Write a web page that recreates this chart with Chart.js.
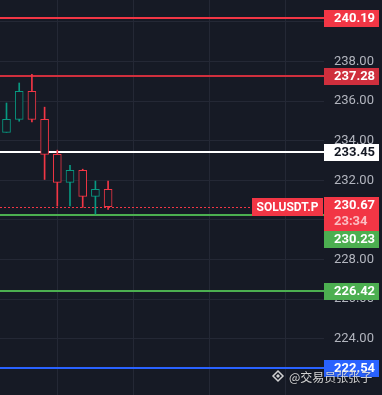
<!DOCTYPE html>
<html>
<head>
<meta charset="utf-8">
<script src="https://cdn.jsdelivr.net/npm/chart.js@4.4.0/dist/chart.umd.min.js"></script>
<style>
  html, body { margin: 0; padding: 0; background: #161a25; overflow: hidden; }
</style>
</head>
<body>
<canvas id="chart" width="382" height="395"></canvas>
<script>
// candles, oldest first
const opens  = [234.42, 235.07, 236.49, 235.07, 233.31, 231.89, 232.50, 231.19, 231.54];
const closes = [235.07, 236.49, 235.07, 233.31, 231.89, 232.50, 231.19, 231.54, 230.67];
const highs  = [235.90, 236.91, 237.35, 235.69, 233.52, 232.75, 232.56, 231.96, 231.96];
const lows   = [234.42, 234.98, 234.95, 232.04, 230.70, 230.70, 230.63, 230.29, 230.53];

// horizontal price levels
const levelPrices = [240.19, 237.28, 233.45, 230.23, 226.42, 222.54];
const lastPrice = 230.67;
const countdown = '23:34';
const symbol = 'SOLUSDT.P';
const watermark = '@交易员张张子';

const priceTicks = [224, 226, 228, 230, 232, 234, 236, 238, 240];
const timeGrid = [4, 10, 16, 22];

// styles
const BG = '#161a25';
const GRID = '#242835';
const UP = '#089981';
const DOWN = '#f23645';
const levelColors = ['#f23645', '#cf2f3d', '#ffffff', '#4caf50', '#4caf50', '#2962ff'];
const levelText   = ['#ffffff', '#ffffff', '#131722', '#ffffff', '#ffffff', '#ffffff'];

const idx = opens.map((_, i) => i);
const candleColor = idx.map(i => closes[i] >= opens[i] ? UP : DOWN);

const levelsPlugin = {
    id: 'levels',
    beforeDatasetsDraw(chart) {
        const { ctx, chartArea: a, scales: { y } } = chart;
        ctx.save();
        levelPrices.forEach((p, i) => {
            const py = Math.round(y.getPixelForValue(p));
            ctx.fillStyle = levelColors[i];
            ctx.fillRect(a.left, py - 1, a.right - a.left, 2);
        });
        // dotted last price line
        const ly = Math.round(y.getPixelForValue(lastPrice)) + 0.5;
        ctx.strokeStyle = DOWN;
        ctx.lineWidth = 1;
        ctx.setLineDash([2, 2]);
        ctx.beginPath();
        ctx.moveTo(a.left, ly);
        ctx.lineTo(a.right, ly);
        ctx.stroke();
        ctx.restore();
    },
    afterDraw(chart) {
        const { ctx, chartArea: a, scales: { y } } = chart;
        const boxX = a.right;
        const boxW = 55;
        const textX = a.right + 10;
        ctx.save();
        ctx.textBaseline = 'middle';

        // current price box (price + countdown)
        const ly = Math.round(y.getPixelForValue(lastPrice));
        const curTop = ly - 10;
        const curBot = curTop + 34;
        ctx.fillStyle = DOWN;
        ctx.fillRect(boxX, curTop, boxW, 34);
        ctx.font = 'bold 13px Roboto';
        ctx.fillStyle = '#ffffff';
        ctx.fillText(lastPrice.toFixed(2), textX, curTop + 9);
        ctx.fillStyle = 'rgba(255,255,255,0.68)';
        ctx.fillText(countdown, textX, curTop + 25);

        // symbol tag
        ctx.font = 'bold 12px Roboto';
        const sw = 71;
        ctx.fillStyle = DOWN;
        ctx.fillRect(a.right - 1 - sw, ly - 9, sw, 18);
        ctx.fillStyle = '#ffffff';
        ctx.textAlign = 'center';
        ctx.fillText(symbol, a.right - 1 - sw / 2, ly + 0.5);
        ctx.textAlign = 'left';

        // level boxes
        ctx.font = 'bold 13px Roboto';
        levelPrices.forEach((p, i) => {
            const py = Math.round(y.getPixelForValue(p));
            let top = py - 8;
            if (top < curBot && top + 17 > curTop) {
                top = py > ly ? curBot : curTop - 17;
            }
            ctx.fillStyle = levelColors[i];
            ctx.fillRect(boxX, top, boxW, 17);
            ctx.fillStyle = levelText[i];
            ctx.fillText(p.toFixed(2), textX, top + 9);
        });

        // watermark
        const wx = 278, wy = 376;
        ctx.strokeStyle = 'rgba(230,230,230,0.9)';
        ctx.fillStyle = 'rgba(230,230,230,0.9)';
        ctx.lineWidth = 1.5;
        ctx.beginPath();
        ctx.moveTo(wx, wy - 5); ctx.lineTo(wx + 5, wy); ctx.lineTo(wx, wy + 5); ctx.lineTo(wx - 5, wy); ctx.closePath();
        ctx.stroke();
        ctx.beginPath();
        ctx.moveTo(wx, wy - 2); ctx.lineTo(wx + 2, wy); ctx.lineTo(wx, wy + 2); ctx.lineTo(wx - 2, wy); ctx.closePath();
        ctx.fill();
        ctx.font = '12px "Noto Sans CJK SC"';
        ctx.shadowColor = 'rgba(0,0,0,0.6)';
        ctx.shadowBlur = 2;
        ctx.fillText(watermark, 289, wy + 1);
        ctx.restore();
    }
};

const ctx = document.getElementById('chart').getContext('2d');
new Chart(ctx, {
    type: 'bar',
    data: {
        datasets: [
            {
                label: 'body',
                data: idx.map(i => ({ x: i, y: [opens[i], closes[i]] })),
                backgroundColor: BG,
                borderColor: candleColor,
                borderWidth: 1,
                borderSkipped: false,
                barThickness: 8,
                grouped: false,
                order: 0
            },
            {
                label: 'wick',
                data: idx.map(i => ({ x: i, y: [lows[i], highs[i]] })),
                backgroundColor: candleColor,
                barThickness: 1,
                grouped: false,
                order: 1
            }
        ]
    },
    options: {
        responsive: false,
        animation: false,
        devicePixelRatio: 1,
        layout: { padding: 0 },
        plugins: { legend: { display: false }, tooltip: { enabled: false } },
        scales: {
            x: {
                type: 'linear',
                min: -0.512,
                max: 25.0,
                offset: false,
                grid: { color: GRID, drawTicks: false, offset: false },
                border: { display: false },
                ticks: { display: false },
                afterBuildTicks: s => { s.ticks = timeGrid.map(v => ({ value: v })); },
                afterFit: s => { s.height = 0; s.paddingLeft = 0; s.paddingRight = 0; }
            },
            y: {
                position: 'right',
                min: 221.16,
                max: 241.1,
                grid: { color: GRID, drawTicks: false },
                border: { display: false },
                ticks: {
                    color: '#b2b5be',
                    padding: 10,
                    font: { family: 'Roboto', size: 13 },
                    callback: v => v.toFixed(2)
                },
                afterBuildTicks: s => { s.ticks = priceTicks.map(v => ({ value: v })); },
                afterFit: s => { s.width = 58; s.paddingTop = 0; s.paddingBottom = 0; }
            }
        }
    },
    plugins: [levelsPlugin]
});
</script>
</body>
</html>
